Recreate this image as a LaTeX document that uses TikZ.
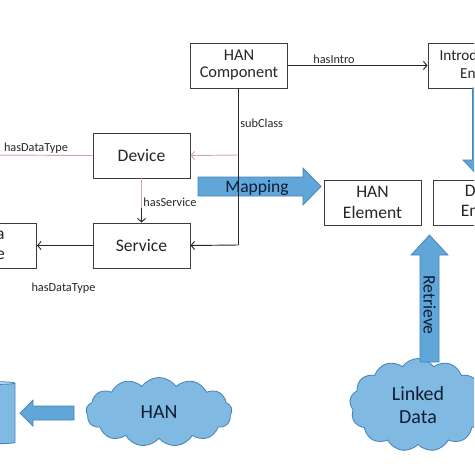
\documentclass[tikz,border=0pt]{standalone}
\usepackage{fontspec}
\setmainfont{Carlito}
\usetikzlibrary{arrows.meta,positioning,shapes.symbols,shapes.geometric}

\definecolor{boxgray}{RGB}{60,60,60}
\definecolor{linkdark}{RGB}{40,40,40}
\definecolor{linkred}{RGB}{214,165,165}
\definecolor{arrowblue}{RGB}{96,166,216}
\definecolor{arrowedge}{RGB}{70,130,185}
\definecolor{cloudblue}{RGB}{128,186,226}
\definecolor{navytext}{RGB}{14,28,52}

\begin{document}
\begin{tikzpicture}[
    x = 0.03cm,
    y = -0.03cm,
    >={Straight Barb[length=3pt,width=7pt]},
    box/.style = {
      draw = boxgray,
      fill = white,
      line width = 0.8pt,
      minimum width = 2.91cm,
      minimum height = 1.35cm,
      inner sep = 0pt,
      align = center,
      text = black!85,
      font = \fontsize{15}{17.5}\selectfont
    },
    link/.style = {draw = linkdark, line width = 0.8pt},
    softlink/.style = {draw = linkred, line width = 0.8pt},
    lbl/.style = {font = \fontsize{10.5}{12}\selectfont, text = linkdark, inner sep = 1pt},
    blockarrow/.style = {fill = arrowblue, draw = arrowedge, line width = 0.6pt},
    bigtext/.style = {font = \fontsize{15}{17}\selectfont, text = navytext, inner sep = 0pt},
    cloudnode/.style = {
      cloud,
      cloud puffs = 13,
      cloud puff arc = 110,
      fill = cloudblue,
      draw = arrowedge,
      line width = 0.7pt,
      font = \fontsize{17}{20}\selectfont,
      text = navytext,
      align = center
    }
  ]
  \useasboundingbox (0,0) rectangle (474,474);
  \clip (0,0) rectangle (474,474);
  \fill[white] (0,0) rectangle (474,474);

  % ontology classes
  \node[box, font = \fontsize{14}{14.5}\selectfont] (comp) at (239,65.5) {HAN\\Component};
  \node[box, minimum width = 3cm, font = \fontsize{13}{15}\selectfont] (intro) at (478,65.5) {Introduction\\Entity};
  \node[box] (device) at (141.5,155.5) {Device};
  \node[box] (service) at (141.5,245.5) {Service};
  \node[box] (dtype) at (-12,245.5) {Data\\Type};

  % mapped elements
  \node[box] (hanel) at (372.5,202.5) {HAN\\Element};
  \node[box] (dent) at (481.5,202.5) {Data\\Entity};

  % sources
  \node[cloudnode, minimum width = 4.38cm, minimum height = 1.44cm] (han) at (159,412) {HAN};
  \node[cloudnode, minimum width = 4.1cm, minimum height = 2.25cm] (linked) at (418,405) {Linked\\Data};
  \node[cylinder, shape border rotate = 90, aspect = 0.35,
    cylinder uses custom fill, cylinder body fill = cloudblue,
    cylinder end fill = cloudblue!45, draw = arrowedge, line width = 0.7pt,
    minimum width = 1.2cm, minimum height = 1.86cm] (store) at (-5,414) {};

  % block arrows
  \draw[blockarrow] (198,177) -- (303,177) -- (303,168) -- (321,186.5)
    -- (303,205) -- (303,196) -- (198,196) -- cycle;
  \draw[blockarrow] (420,362) -- (420,255) -- (411,255) -- (429.5,235)
    -- (448,255) -- (439,255) -- (439,362) -- cycle;
  \draw[blockarrow] (472.5,88) -- (472.5,160) -- (463,160) -- (482,180)
    -- (501,160) -- (491.5,160) -- (491.5,88) -- cycle;
  \draw[blockarrow] (74,406) -- (33,406) -- (33,400) -- (20,413)
    -- (33,426) -- (33,420) -- (74,420) -- cycle;

  % relations
  \coordinate (split) at (238,155);
  \coordinate (corner) at (238,245);
  \coordinate (offleft) at (-10,155);
  \draw[link, ->] (comp) -- node[lbl, above, pos = 0.33] (intro lbl) {hasIntro} (intro);
  \draw[link] (comp.south -| split) -- (corner);
  \draw[link, ->] (corner) -- (service.east);
  \draw[softlink, ->] (split) -- (device.east);
  \draw[softlink] (device.west) -- (offleft);
  \draw[softlink] (device.south) -- ++(0,30) coordinate (mid);
  \draw[link, ->] (mid) -- (service.north);
  \draw[link, ->] (service.west) -- (dtype.east);
  \node[lbl] (dtype lbl) at (36,148) {hasDataType};
  \node[lbl, anchor = west] (sub lbl) at (239,123) {subClass};
  \node[lbl, anchor = west] (srv lbl) at (142,202) {hasService};
  \node[lbl] (dtype lbl2) at (63.5,288) {hasDataType};

  % arrow texts
  \node[bigtext] (map) at (257,187.5) {Mapping};
  \node[bigtext, rotate = -90] (ret) at (429.5,305) {Retrieve};
\end{tikzpicture}
\end{document}
